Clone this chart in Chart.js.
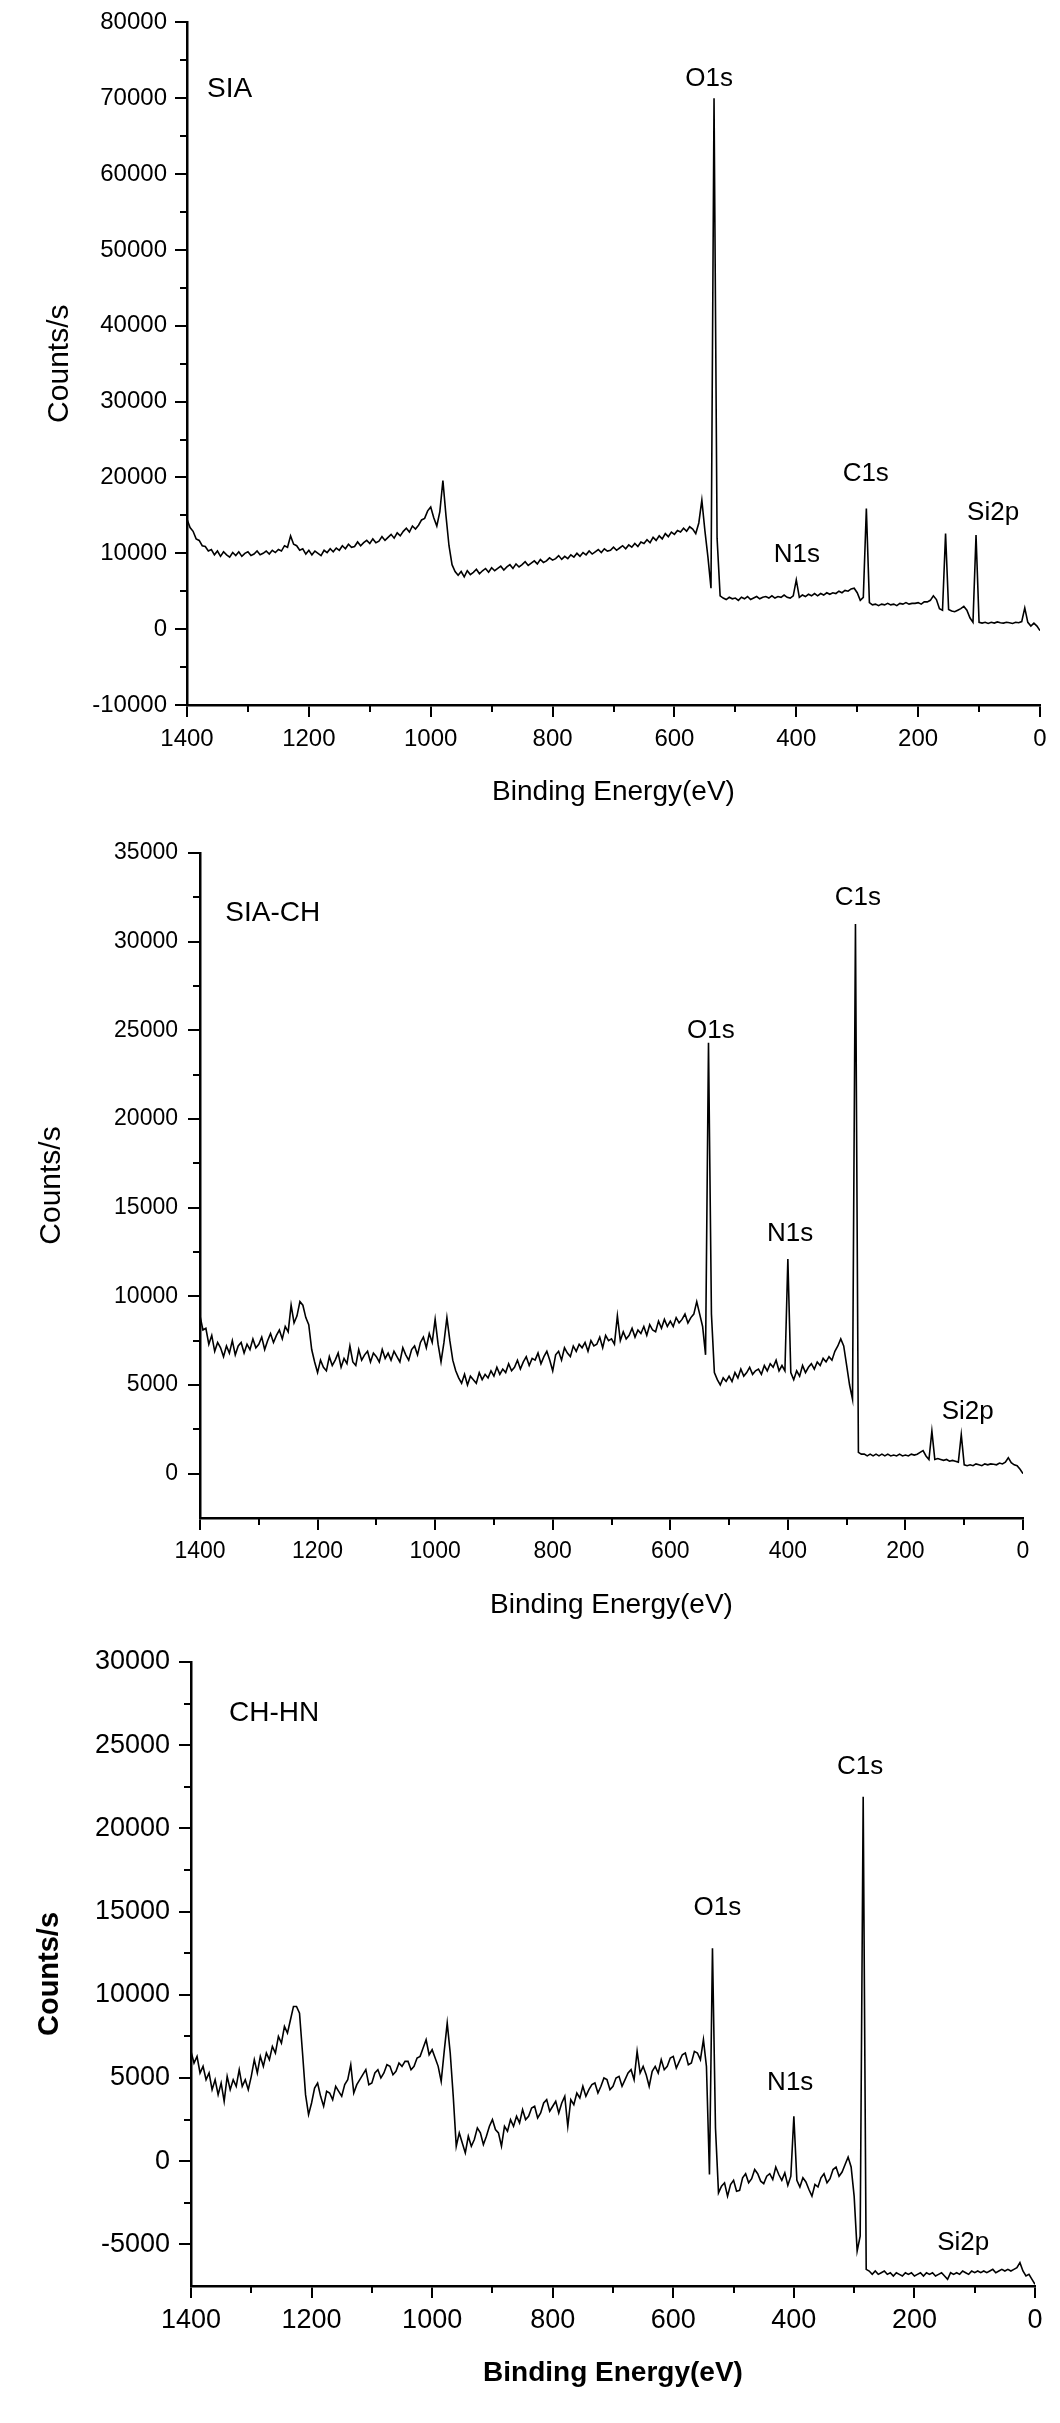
<!DOCTYPE html>
<html>
<head>
<meta charset="utf-8">
<title>XPS survey spectra: SIA, SIA-CH, CH-HN</title>
<script src="https://cdn.jsdelivr.net/npm/chart.js@4.4.1/dist/chart.umd.min.js"></script>
<style>
  html, body { margin: 0; padding: 0; background: #fff; }
  .panel { position: absolute; left: 0; }
  .panel canvas { display: block; }
</style>
</head>
<body>
<div class="panel" style="top:0"><canvas id="siaChart" width="1060" height="815"></canvas></div>
<div class="panel" style="top:815px"><canvas id="siaChChart" width="1060" height="815"></canvas></div>
<div class="panel" style="top:1630px"><canvas id="chHnChart" width="1060" height="793"></canvas></div>
<script>
// XPS survey scans - three stacked panels

const FONT = "'Liberation Sans', Arial, Helvetica, sans-serif";
const MINOR_TICK = 7;

// binding energy grid shared by the three scans (eV)
const energies = [
    1400, 1395, 1390, 1385, 1380, 1375, 1370, 1365, 1360, 1355,
    1350, 1345, 1340, 1335, 1330, 1325, 1320, 1315, 1310, 1305,
    1300, 1295, 1290, 1285, 1280, 1275, 1270, 1265, 1260, 1255,
    1250, 1245, 1240, 1235, 1230, 1225, 1220, 1215, 1210, 1205,
    1200, 1195, 1190, 1185, 1180, 1175, 1170, 1165, 1160, 1155,
    1150, 1145, 1140, 1135, 1130, 1125, 1120, 1115, 1110, 1105,
    1100, 1095, 1090, 1085, 1080, 1075, 1070, 1065, 1060, 1055,
    1050, 1045, 1040, 1035, 1030, 1025, 1020, 1015, 1010, 1005,
    1000, 995, 990, 985, 980, 975, 970, 965, 960, 955,
    950, 945, 940, 935, 930, 925, 920, 915, 910, 905,
    900, 895, 890, 885, 880, 875, 870, 865, 860, 855,
    850, 845, 840, 835, 830, 825, 820, 815, 810, 805,
    800, 795, 790, 785, 780, 775, 770, 765, 760, 755,
    750, 745, 740, 735, 730, 725, 720, 715, 710, 705,
    700, 695, 690, 685, 680, 675, 670, 665, 660, 655,
    650, 645, 640, 635, 630, 625, 620, 615, 610, 605,
    600, 595, 590, 585, 580, 575, 570, 565, 560, 555,
    550, 545, 540, 535, 530, 525, 520, 515, 510, 505,
    500, 495, 490, 485, 480, 475, 470, 465, 460, 455,
    450, 445, 440, 435, 430, 425, 420, 415, 410, 405,
    400, 395, 390, 385, 380, 375, 370, 365, 360, 355,
    350, 345, 340, 335, 330, 325, 320, 315, 310, 305,
    300, 295, 290, 285, 280, 275, 270, 265, 260, 255,
    250, 245, 240, 235, 230, 225, 220, 215, 210, 205,
    200, 195, 190, 185, 180, 175, 170, 165, 160, 155,
    150, 145, 140, 135, 130, 125, 120, 115, 110, 105,
    100, 95, 90, 85, 80, 75, 70, 65, 60, 55,
    50, 45, 40, 35, 30, 25, 20, 15, 10, 5,
    0
];

// SIA (counts/s)
const siaCounts = [
    14500, 13400, 12900, 11900, 11700, 11000, 10900, 10300, 10500, 9800,
    10300, 9600, 10200, 9800, 9500, 10100, 9700, 10200, 9600, 10000,
    10200, 9700, 9900, 10300, 9800, 10000, 10300, 9900, 10400, 10100,
    10500, 10300, 11000, 10800, 12300, 11200, 11000, 10400, 10600, 9900,
    10400, 9800, 10300, 10000, 9700, 10400, 10100, 10600, 10200, 10700,
    10400, 11000, 10600, 11200, 10800, 10900, 11500, 11000, 11400, 11700,
    11300, 11900, 11400, 11600, 12200, 11700, 12100, 12500, 12000, 12700,
    12300, 12900, 13300, 12800, 13600, 13200, 13700, 14400, 14600, 15600,
    16100, 14700, 13600, 15500, 19600, 15000, 11000, 8500, 7600, 7100,
    7600, 6900, 7700, 7200, 7500, 7900, 7300, 7700, 8000, 7500,
    8100, 7700, 8000, 8300, 7800, 8200, 8500, 8000, 8600, 8200,
    8500, 8900, 8400, 8700, 9000, 8600, 9200, 8800, 9000, 9400,
    9100, 9300, 9700, 9200, 9600, 9300, 9800, 9500, 10000, 9600,
    10100, 9800, 10300, 9900, 10200, 10500, 10100, 10600, 10300, 10400,
    10800, 10400, 10700, 11000, 10600, 11100, 10800, 11300, 10900, 11500,
    11300, 11800, 11400, 12100, 11700, 12300, 11900, 12600, 12200, 12800,
    12500, 13000, 12800, 13300, 12900, 13500, 13200, 12600, 14000, 17000,
    13000, 9500, 5400, 70000, 12000, 4400, 4100, 3900, 4200, 4000,
    4100, 3800, 4200, 4000, 4300, 3900, 4100, 4300, 4000, 4200,
    4300, 4100, 4400, 4100, 4300, 4200, 4500, 4200, 4100, 4400,
    6500, 4200, 4500, 4300, 4600, 4400, 4700, 4400, 4700, 4500,
    4800, 4600, 4800, 4700, 5000, 4800, 5100, 5000, 5300, 5400,
    4800, 3800, 4200, 15900, 3500, 3200, 3300, 3100, 3300, 3200,
    3400, 3200, 3300, 3100, 3400, 3300, 3500, 3300, 3400, 3400,
    3500, 3300, 3600, 3600, 3800, 4400, 3900, 2700, 2500, 12600,
    2600, 2400, 2300, 2500, 2700, 3000, 2500, 1500, 900, 12400,
    900, 800, 900, 750, 900, 800, 950, 850, 800, 900,
    850, 750, 900, 850, 1000, 2800, 900, 400, 800, 400,
    -200
];

// SIA-CH (counts/s)
const siaChCounts = [
    8900, 8100, 8200, 7300, 7800, 6900, 7400, 7100, 6600, 7200,
    6800, 7500, 6700, 7200, 7400, 6800, 7300, 7000, 7600, 7100,
    7300, 7700, 7000, 7500, 7900, 7400, 7800, 8100, 7600, 8300,
    8000, 9500, 8500, 8900, 9700, 9500, 8800, 8400, 7000, 6300,
    5700, 6400, 6000, 5800, 6600, 6100, 6400, 6800, 6000, 6500,
    6200, 7200, 6300, 6100, 7000, 6400, 6700, 6900, 6300, 6800,
    6600, 6300, 7000, 6500, 6800, 6400, 6900, 6600, 6300, 7100,
    6700, 6400, 7000, 7200, 6700, 7400, 7700, 7100, 7900, 7400,
    8700, 7300, 6300, 7400, 8800, 7500, 6400, 5800, 5400, 5100,
    5600, 5000, 5500, 5300, 5100, 5700, 5300, 5600, 5400, 5800,
    5500, 6000, 5600, 5900, 5700, 6200, 5800, 6000, 6400, 5900,
    6300, 6600, 6100, 6500, 6400, 6800, 6200, 6600, 6900, 6400,
    5800, 6700, 6900, 6400, 7100, 6800, 6600, 7200, 6900, 7300,
    7100, 7400, 6900, 7500, 7200, 7300, 7700, 7100, 7800, 7500,
    7600, 7300, 8900, 7500, 8000, 7600, 7800, 8200, 7700, 8100,
    7900, 8300, 7800, 8400, 8100, 8000, 8600, 8200, 8700, 8300,
    8600, 8300, 8800, 8500, 8700, 9000, 8500, 8800, 9000, 9700,
    9000, 8300, 6700, 24300, 9000, 5700, 5300, 5000, 5400, 5200,
    5500, 5200, 5700, 5400, 5900, 5500, 5700, 6000, 5600, 5800,
    5900, 5600, 6100, 5800, 6200, 6000, 6400, 5800, 6100, 5800,
    12100, 5700, 5300, 5800, 5500, 6100, 5700, 6000, 6200, 5900,
    6300, 6100, 6500, 6300, 6600, 6400, 6900, 7200, 7600, 7200,
    6100, 5000, 4200, 31000, 1200, 1100, 1100, 1000, 1100, 1000,
    1100, 1000, 1100, 1000, 1100, 1000, 1050, 1000, 1100, 1000,
    1050, 1000, 1100, 1050, 1100, 1200, 1300, 1000, 800, 2400,
    800, 850, 800, 750, 800, 700, 750, 700, 650, 2200,
    500, 450, 500, 450, 550, 500, 450, 550, 500, 550,
    530, 500, 600, 550, 650, 900, 620, 500, 450, 250,
    0
];

// CH-HN (counts/s)
const chHnCounts = [
    6600, 5900, 6300, 5300, 5700, 4900, 5300, 4300, 4900, 4000,
    4700, 3600, 5100, 4300, 4900, 4500, 5500, 4500, 4900, 4300,
    5100, 6100, 5300, 6300, 5700, 6500, 6100, 6900, 6500, 7500,
    7100, 8100, 7700, 8500, 9300, 9300, 8900, 6500, 4000, 2800,
    3500, 4400, 4700, 3900, 3300, 4200, 4100, 3700, 4500, 4200,
    3900, 4600, 4900, 5800, 4100, 4600, 4900, 5200, 5500, 4600,
    4700, 5300, 5500, 5000, 5300, 5800, 5700, 5200, 5400, 5900,
    5700, 6000, 6000, 5500, 5700, 6200, 6300, 6800, 7300, 6400,
    6700, 6200, 5700, 4800, 6600, 8300, 6500, 3900, 900, 1700,
    1100, 500, 1500, 900, 1300, 2000, 1700, 1000, 1500, 2100,
    2500, 1900, 1700, 900, 2100, 1800, 2500, 2100, 2700, 2300,
    3100, 2500, 2700, 3200, 3300, 2600, 2900, 3500, 3700, 3000,
    3300, 3600, 2900, 3500, 3900, 2100, 3700, 3400, 4100, 3800,
    4500, 3900, 4300, 4600, 4700, 4100, 4500, 5000, 4900, 4300,
    4500, 5000, 5100, 4500, 4900, 5300, 5500, 4900, 6600, 5300,
    5700, 5200, 4500, 5400, 5700, 5300, 6100, 5500, 5700, 6200,
    6300, 5600, 6000, 6400, 6500, 5800, 5900, 6600, 6500, 6100,
    7300, 5700, -800, 12800, 2000, -1900, -1500, -1300, -2100, -1400,
    -1150, -1800, -1750, -1000, -750, -1300, -1050, -500, -750, -1200,
    -1350, -900, -750, -1100, -350, -800, -1150, -700, -1450, -900,
    2700, -1150, -1550, -1000, -1250, -1700, -2100, -1400, -1550, -1000,
    -750, -1300, -1050, -500, -350, -900, -650, -200, 250, -350,
    -2100, -5400, -4500, 21900, -6500, -6600, -6800, -6600, -6800, -6700,
    -6600, -6800, -6700, -6900, -6700, -6800, -6900, -6700, -6800, -6700,
    -6900, -6800, -6700, -6900, -6700, -6800, -6700, -6900, -6800, -6700,
    -6900, -7100, -6700, -6800, -6700, -6800, -6600, -6700, -6800, -6600,
    -6700, -6600, -6700, -6600, -6700, -6600, -6500, -6700, -6600, -6500,
    -6600, -6500, -6600, -6500, -6400, -6100, -6600, -6900, -6800, -7100,
    -7400
];

// axis ticks
const energyTicks = [1400, 1200, 1000, 800, 600, 400, 200, 0];
const energyMinorTicks = [1300, 1100, 900, 700, 500, 300, 100];

const siaTicks = [-10000, 0, 10000, 20000, 30000, 40000, 50000, 60000, 70000, 80000];
const siaMinorTicks = [-5000, 5000, 15000, 25000, 35000, 45000, 55000, 65000, 75000];
const siaChTicks = [0, 5000, 10000, 15000, 20000, 25000, 30000, 35000];
const siaChMinorTicks = [2500, 7500, 12500, 17500, 22500, 27500, 32500];
const chHnTicks = [-5000, 0, 5000, 10000, 15000, 20000, 25000, 30000];
const chHnMinorTicks = [-2500, 2500, 7500, 12500, 17500, 22500, 27500];

// sample name + peak labels, anchored in data units (eV, counts/s)
const siaLabelText = ['SIA', 'O1s', 'C1s', 'N1s', 'Si2p'];
const siaLabelEnergy = [1367, 543, 286, 399, 77];
const siaLabelCounts = [71200, 72500, 20500, 9800, 15400];

const siaChLabelText = ['SIA-CH', 'O1s', 'C1s', 'N1s', 'Si2p'];
const siaChLabelEnergy = [1357, 531, 281, 396, 94];
const siaChLabelCounts = [31600, 25000, 32500, 13500, 3500];

const chHnLabelText = ['CH-HN', 'O1s', 'C1s', 'N1s', 'Si2p'];
const chHnLabelEnergy = [1337, 527, 290, 406, 119];
const chHnLabelCounts = [26900, 15200, 23700, 4700, -4900];

Chart.defaults.font.family = FONT;
Chart.defaults.color = '#000';

// minor tick marks + text labels, drawn through the chart's own scales
const xpsMarks = {
    id: 'xpsMarks',
    afterDraw(chart, args, opts) {
        const { ctx, chartArea } = chart;
        const xs = chart.scales.x;
        const ys = chart.scales.y;
        ctx.save();
        ctx.strokeStyle = '#000';
        ctx.lineWidth = 2;
        ctx.beginPath();
        energyMinorTicks.forEach(v => {
            const px = Math.round(xs.getPixelForValue(v));
            ctx.moveTo(px, chartArea.bottom);
            ctx.lineTo(px, chartArea.bottom + MINOR_TICK);
        });
        opts.minorY.forEach(v => {
            const py = Math.round(ys.getPixelForValue(v));
            ctx.moveTo(chartArea.left - MINOR_TICK, py);
            ctx.lineTo(chartArea.left, py);
        });
        ctx.stroke();

        ctx.fillStyle = '#000';
        ctx.textBaseline = 'middle';
        opts.text.forEach((t, i) => {
            const isSample = i === 0;
            ctx.font = (isSample ? 28 : 26) + 'px ' + FONT;
            ctx.textAlign = isSample ? 'left' : 'center';
            ctx.fillText(t, xs.getPixelForValue(opts.energy[i]), ys.getPixelForValue(opts.counts[i]));
        });
        ctx.restore();
    }
};

function buildPanel(canvasId, p) {
    const canvas = document.getElementById(canvasId);
    const weight = p.bold ? 'bold' : 'normal';

    return new Chart(canvas, {
        type: 'line',
        data: {
            datasets: [{
                data: energies.map((e, i) => ({ x: e, y: p.counts[i] })),
                borderColor: '#000',
                borderWidth: 1.6,
                pointRadius: 0,
                tension: 0,
                fill: false
            }]
        },
        options: {
            responsive: false,
            animation: false,
            devicePixelRatio: 1,
            events: [],
            layout: { padding: { top: p.padTop, right: p.padRight, bottom: 0, left: 0 } },
            plugins: {
                legend: { display: false },
                tooltip: { enabled: false },
                xpsMarks: {
                    minorY: p.minorY,
                    text: p.labelText,
                    energy: p.labelEnergy,
                    counts: p.labelCounts
                }
            },
            scales: {
                x: {
                    type: 'linear',
                    reverse: true,
                    min: 0,
                    max: 1400,
                    afterFit: s => { s.height = p.xHeight; },
                    afterBuildTicks: s => { s.ticks = energyTicks.map(v => ({ value: v })); },
                    border: { display: true, color: '#000', width: 2.5 },
                    grid: { drawOnChartArea: false, color: '#000', lineWidth: 2, tickLength: 12 },
                    ticks: {
                        color: '#000',
                        font: { size: p.tickSize },
                        padding: p.xTickPad,
                        maxRotation: 0,
                        autoSkip: false,
                        callback: v => String(v)
                    },
                    title: {
                        display: true,
                        text: 'Binding Energy(eV)',
                        color: '#000',
                        font: { size: 28, weight: weight },
                        padding: { top: 0, bottom: p.xTitlePad }
                    }
                },
                y: {
                    type: 'linear',
                    min: p.yMin,
                    max: p.yMax,
                    afterFit: s => { s.width = p.yWidth; },
                    afterBuildTicks: s => { s.ticks = p.yTicks.map(v => ({ value: v })); },
                    border: { display: true, color: '#000', width: 2.5 },
                    grid: { drawOnChartArea: false, color: '#000', lineWidth: 2, tickLength: 12 },
                    ticks: {
                        color: '#000',
                        font: { size: p.tickSize },
                        padding: p.yTickPad,
                        callback: v => String(v)
                    },
                    title: {
                        display: true,
                        text: 'Counts/s',
                        color: '#000',
                        font: { size: p.yTitleSize, weight: weight },
                        padding: { top: p.yTitlePad, bottom: 0 }
                    }
                }
            }
        },
        plugins: [xpsMarks]
    });
}

buildPanel('siaChart', {
    counts: siaCounts, yMin: -10000, yMax: 80000, yTicks: siaTicks, minorY: siaMinorTicks,
    labelText: siaLabelText, labelEnergy: siaLabelEnergy, labelCounts: siaLabelCounts,
    padTop: 15, padRight: 20, yWidth: 187, xHeight: 110,
    tickSize: 24, xTickPad: 8, yTickPad: 8, xTitlePad: 6, yTitlePad: 42, yTitleSize: 30, bold: false
});

buildPanel('siaChChart', {
    counts: siaChCounts, yMin: -2500, yMax: 35000, yTicks: siaChTicks, minorY: siaChMinorTicks,
    labelText: siaChLabelText, labelEnergy: siaChLabelEnergy, labelCounts: siaChLabelCounts,
    padTop: 38, padRight: 37, yWidth: 200, xHeight: 112,
    tickSize: 23, xTickPad: 8, yTickPad: 10, xTitlePad: 8, yTitlePad: 34, yTitleSize: 30, bold: false
});

buildPanel('chHnChart', {
    counts: chHnCounts, yMin: -7500, yMax: 30000, yTicks: chHnTicks, minorY: chHnMinorTicks,
    labelText: chHnLabelText, labelEnergy: chHnLabelEnergy, labelCounts: chHnLabelCounts,
    padTop: 32, padRight: 25, yWidth: 191, xHeight: 137,
    tickSize: 27, xTickPad: 6, yTickPad: 9, xTitlePad: 33, yTitlePad: 33, yTitleSize: 29, bold: true
});
</script>
</body>
</html>
